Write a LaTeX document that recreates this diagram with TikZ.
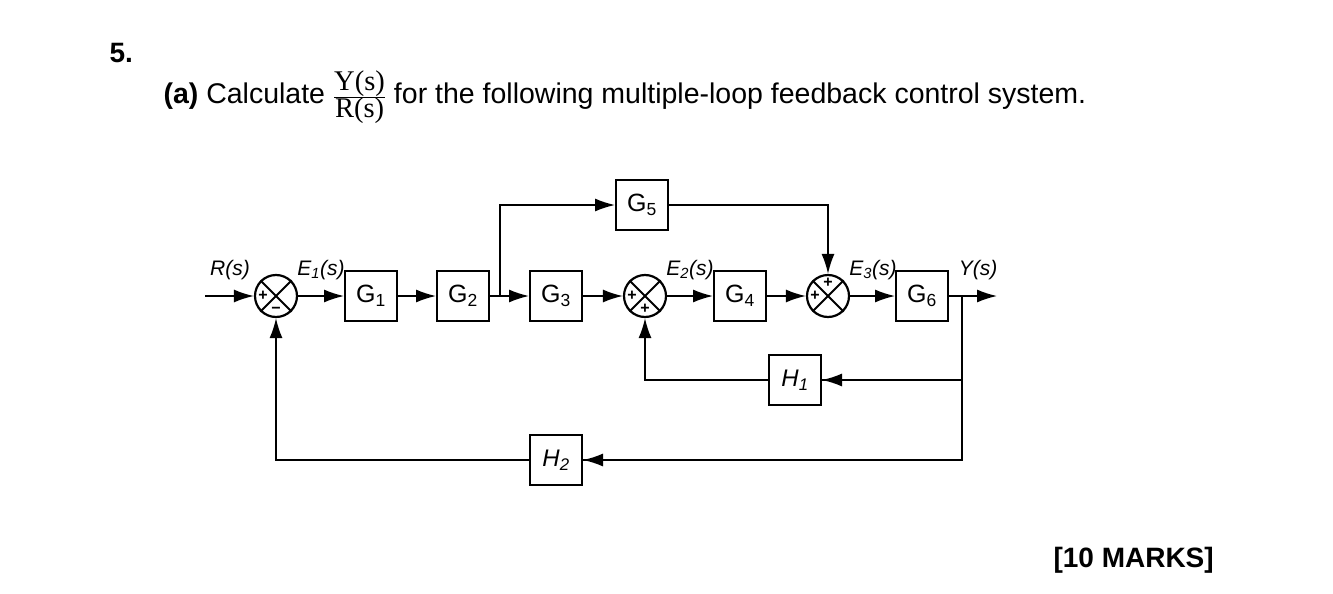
\documentclass[tikz,border=0pt]{standalone}
\usepackage{fontspec}
\setmainfont{Liberation Sans}
\newfontfamily\serifx{Liberation Serif}
\usetikzlibrary{arrows.meta}
\newcommand{\sbx}[1]{\textsubscript{#1}}
\begin{document}
\begin{tikzpicture}[x=1pt,y=-1pt,
  blk/.style={draw,line width=2pt,minimum width=52pt,minimum height=50pt,inner sep=0pt,font=\fontsize{25}{25}\selectfont},
  sumj/.style={draw,circle,line width=2.2pt,minimum size=42pt,inner sep=0pt},
  sg/.style={font=\bfseries\fontsize{16}{16}\selectfont,inner sep=0pt},
  lab/.style={font=\itshape\fontsize{21}{21}\selectfont,inner sep=0pt},
  ar/.style={line width=1.6pt,-{Latex[length=20pt,width=13pt]}},
  ln/.style={line width=1.6pt}]
\useasboundingbox (0,0) rectangle (1333,594);
\node[font=\bfseries\fontsize{28}{28}\selectfont,anchor=base west] (n5) at (106,63) {5.};
\node[font=\fontsize{28.5}{28}\selectfont,anchor=base west] (q) at (160,103) {\textbf{(a)}\ Calculate $\frac{\mbox{\serifx Y(s)}}{\mbox{\serifx R(s)}}$ for the following multiple-loop feedback control system.};
\node[font=\bfseries\fontsize{28}{28}\selectfont,anchor=base west] (mk) at (1050,567) {[10 MARKS]};
% sums
\foreach \n/\x in {s1/276,s2/645,s3/828}{
  \node[sumj] (\n) at (\x,296) {};
  \draw[line width=1.8pt] (\n.45) -- (\n.225) (\n.135) -- (\n.315);
}
\node[sg] (p1) at (263,296) {+}; \node[sg] (m1) at (276,310) {\textminus};
\node[sg] (p2) at (632,296) {+}; \node[sg] (p2b) at (645,309) {+};
\node[sg] (p3) at (815,296) {+}; \node[sg] (p3b) at (828,283) {+};
% blocks
\node[blk] (g1) at (371,296) {G\sbx{1}};
\node[blk] (g2) at (463,296) {G\sbx{2}};
\node[blk] (g3) at (556,296) {G\sbx{3}};
\node[blk] (g4) at (740,296) {G\sbx{4}};
\node[blk] (g6) at (922,296) {G\sbx{6}};
\node[blk] (g5) at (642,205) {G\sbx{5}};
\node[blk,font=\itshape\fontsize{24}{24}\selectfont] (h1) at (795,380) {H\sbx{1}};
\node[blk,font=\itshape\fontsize{24}{24}\selectfont] (h2) at (556,460) {H\sbx{2}};
\coordinate (rin) at (205,296);
\coordinate (yout) at (997,296);
\coordinate (br) at (500,296);
\coordinate (yb) at (962,296);
% forward
\draw[ar] (rin) -- (s1);
\draw[ar] (s1) -- (g1);
\draw[ar] (g1) -- (g2);
\draw[ar] (g2) -- (g3);
\draw[ar] (g3) -- (s2);
\draw[ar] (s2) -- (g4);
\draw[ar] (g4) -- (s3);
\draw[ar] (s3) -- (g6);
\draw[ar] (g6) -- (yout);
% G5 path
\draw[ar] (br) |- (g5);
\draw[ar] (g5) -| (s3);
% feedback
\draw[ln] (yb) |- (h1);
\draw[ar] (yb |- h1) -- (h1);
\draw[ar] (h1) -| (s2);
\draw[ln] (yb) |- (h2);
\draw[ar] (yb |- h2) -- (h2);
\draw[ar] (h2) -| (s1);
% labels
\node[lab] (lr) at (230,270) {R(s)};
\node[lab] (le1) at (321,270) {E\sbx{1}(s)};
\node[lab] (le2) at (690,270) {E\sbx{2}(s)};
\node[lab] (le3) at (873,270) {E\sbx{3}(s)};
\node[lab] (ly) at (978,270) {Y(s)};
\end{tikzpicture}
\end{document}
